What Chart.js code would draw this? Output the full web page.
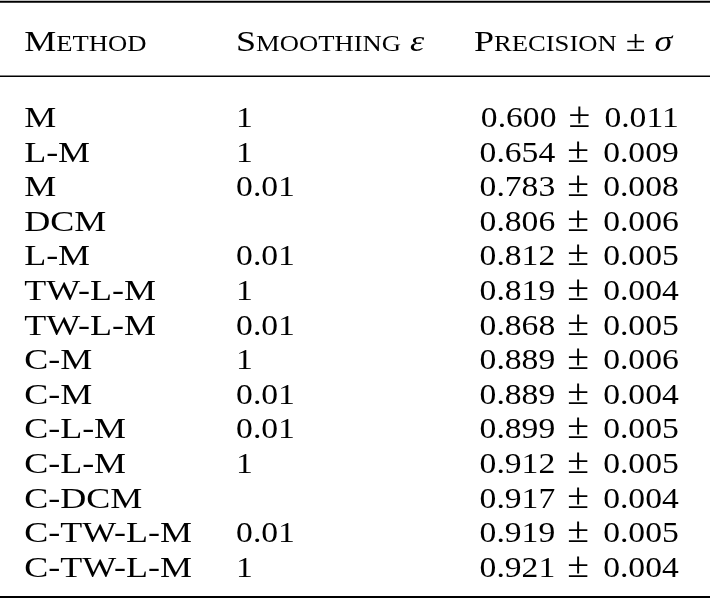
<!DOCTYPE html>
<html>
<head>
<meta charset="utf-8">
<script src="https://cdn.jsdelivr.net/npm/chart.js@4.4.1/dist/chart.umd.min.js"></script>
<style>
  html, body { margin: 0; padding: 0; background: #fff; }
  #wrap { width: 710px; height: 606px; position: relative; }
</style>
</head>
<body>
<div id="wrap"><canvas id="tableChart"></canvas></div>
<script>
// table content
const methods = ['M', 'L-M', 'M', 'DCM', 'L-M', 'TW-L-M', 'TW-L-M', 'C-M', 'C-M', 'C-L-M', 'C-L-M', 'C-DCM', 'C-TW-L-M', 'C-TW-L-M'];
const smoothing = ['1', '1', '0.01', '', '0.01', '1', '0.01', '1', '0.01', '0.01', '1', '', '0.01', '1'];
const precision = [0.600, 0.654, 0.783, 0.806, 0.812, 0.819, 0.868, 0.889, 0.889, 0.899, 0.912, 0.917, 0.919, 0.921];
const sigma = [0.011, 0.009, 0.008, 0.006, 0.005, 0.004, 0.005, 0.006, 0.004, 0.005, 0.005, 0.004, 0.005, 0.004];
const headerWords = ['Method', 'Smoothing', 'Precision'];

// layout (x in percent of width, y in row units)
const colX = [3.4, 33.25, 66.75, 95.6];
const headerRow = -2.2;
const rules = [-3.62, -1.47, 13.58];

const FONT = '"Liberation Serif", "Times New Roman", serif';
const SIZE = 30;
const TEXT_STRETCH = 1.2;   // letters are wider in the original face
const NUM_STRETCH = 1.12;

function smallCaps(word) {
    return [{ t: word[0], s: 1 }, { t: word.slice(1).toUpperCase(), s: 0.74 }];
}

const headerCells = headerWords.map((w, i) => {
    const segs = smallCaps(w);
    if (i === 1) {
        segs.push({ t: ' ', s: 1 });
        segs.push({ t: 'ε', s: 1, it: true });
    }
    if (i === 2) {
        segs.push({ t: ' ± ', s: 1 });
        segs.push({ t: 'σ', s: 1, it: true });
    }
    return segs;
});

const precisionCells = precision.map((p, i) => [
    { t: p.toFixed(3), s: 1 },
    { gap: 0.36 },
    { t: '±', s: 1.18 },
    { gap: 0.42 },
    { t: sigma[i].toFixed(3), s: 1 }
]);

function drawSegs(ctx, x, y, segs, align, stretch) {
    let total = 0;
    const widths = segs.map(sg => {
        if (sg.gap) { total += sg.gap * SIZE; return sg.gap * SIZE; }
        ctx.font = (sg.it ? 'italic ' : '') + (SIZE * sg.s) + 'px ' + FONT;
        const w = ctx.measureText(sg.t).width;
        total += w;
        return w;
    });
    ctx.save();
    ctx.translate(align === 'right' ? x - total * stretch : x, y);
    ctx.scale(stretch, 1);
    let cx = 0;
    segs.forEach((sg, k) => {
        if (!sg.gap) {
            ctx.font = (sg.it ? 'italic ' : '') + (SIZE * sg.s) + 'px ' + FONT;
            ctx.fillText(sg.t, cx, 0);
        }
        cx += widths[k];
    });
    ctx.restore();
}

const cellPlugin = {
    id: 'cellText',
    afterDatasetsDraw(chart) {
        const ctx = chart.ctx;
        ctx.save();
        ctx.fillStyle = '#000';
        ctx.textBaseline = 'alphabetic';
        ctx.textAlign = 'left';
        chart.data.datasets.forEach((ds, d) => {
            if (!ds.cells) return;
            const meta = chart.getDatasetMeta(d);
            meta.data.forEach((pt, i) => {
                const c = ds.cells[i];
                const segs = typeof c === 'string' ? [{ t: c, s: 1 }] : c;
                drawSegs(ctx, pt.x, pt.y, segs, ds.align, ds.stretch);
            });
        });
        ctx.restore();
    }
};

const ruleSets = rules.map((r, k) => ({
    type: 'line',
    data: [{ x: 0, y: r }, { x: 100, y: r }],
    borderColor: '#000',
    borderWidth: k === 1 ? 1.5 : 1.8,
    pointRadius: 0,
    showLine: true,
    clip: false
}));

const cellSet = (xs, ys, cells, align, stretch) => ({
    type: 'scatter',
    data: ys.map(y => ({ x: xs, y: y })),
    cells: cells,
    align: align,
    stretch: stretch,
    pointRadius: 0,
    clip: false
});

const rowIdx = methods.map((m, i) => i);

new Chart(document.getElementById('tableChart'), {
    type: 'scatter',
    data: {
        datasets: [
            ...ruleSets,
            cellSet(colX[0], [headerRow], [headerCells[0]], 'left', TEXT_STRETCH),
            cellSet(colX[1], [headerRow], [headerCells[1]], 'left', TEXT_STRETCH),
            cellSet(colX[2], [headerRow], [headerCells[2]], 'left', TEXT_STRETCH),
            cellSet(colX[0], rowIdx, methods, 'left', TEXT_STRETCH),
            cellSet(colX[1], rowIdx, smoothing, 'left', NUM_STRETCH),
            cellSet(colX[3], rowIdx, precisionCells, 'right', NUM_STRETCH)
        ]
    },
    options: {
        responsive: true,
        maintainAspectRatio: false,
        animation: false,
        events: [],
        layout: { padding: 0 },
        plugins: { legend: { display: false }, tooltip: { enabled: false } },
        scales: {
            x: { type: 'linear', min: 0, max: 100, display: false },
            y: { type: 'linear', min: -3.67, max: 13.84, reverse: true, display: false }
        }
    },
    plugins: [cellPlugin]
});
</script>
</body>
</html>
